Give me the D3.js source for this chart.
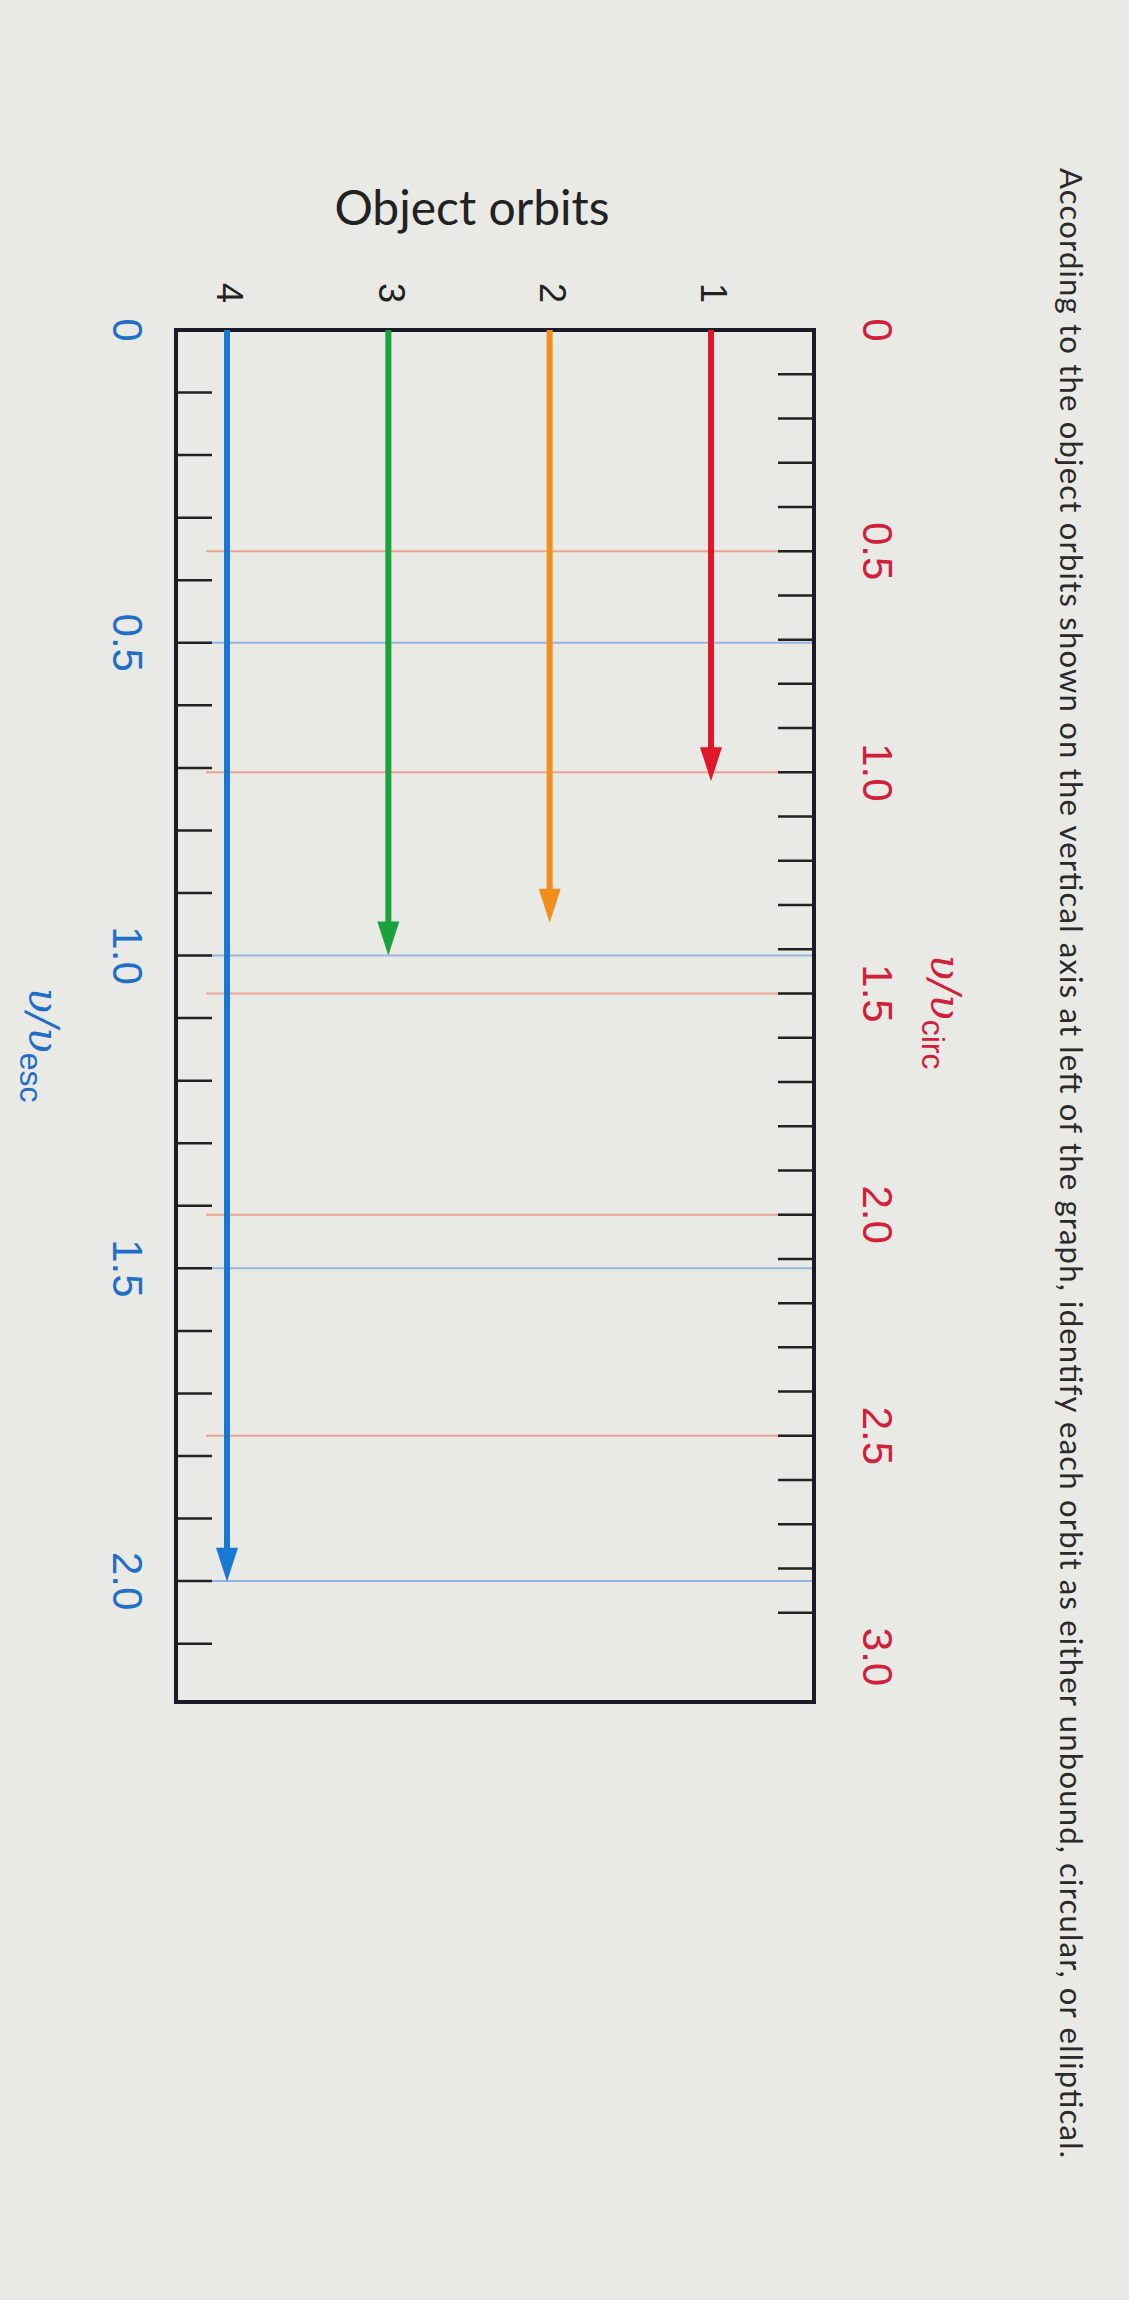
<!DOCTYPE html>
<html><head><meta charset="utf-8">
<script src="https://cdn.jsdelivr.net/npm/d3@7"></script>
<style>body{margin:0;background:#e9e9e6;}svg{display:block}</style>
</head><body>
<script>
const circTicks = [0, 0.5, 1.0, 1.5, 2.0, 2.5, 3.0];
const circTickLabels = ["0", "0.5", "1.0", "1.5", "2.0", "2.5", "3.0"];
const escTicks = [0, 0.5, 1.0, 1.5, 2.0];
const escTickLabels = ["0", "0.5", "1.0", "1.5", "2.0"];
const redLines = [0.5, 1.0, 1.5, 2.0, 2.5];      // v/v_circ
const blueLines = [0.5, 1.0, 1.5, 2.0];          // v/v_esc
const orbits = ["1", "2", "3", "4"];
const orbitEnds = [1.02, 1.34, 1.414, 2.83];     // v/v_circ at arrow tip
const orbitColors = ["#e2162b", "#f28e1c", "#1ca03c", "#1878d2"];

const W = 1129, H = 2300;
const svg = d3.select("body").append("svg").attr("width", W).attr("height", H);
svg.append("rect").attr("width", W).attr("height", H).attr("fill", "#e9e9e6");

const xL = 176, xR = 814, yT = 330, yB = 1702;
const y = d3.scaleLinear().domain([0, 3]).range([yT, 1657]);
const yE = v => y(v * Math.SQRT2);
const xOrb = d3.scalePoint().domain(orbits).range([711, 227]);
const font = "Lato, 'Open Sans', sans-serif";
const font2 = "'Liberation Sans', Arial, sans-serif";

function rtext(x, yy, txt, size, color, anchor, ff) {
  return svg.append("text").attr("transform", `translate(${x},${yy}) rotate(90)`)
    .attr("text-anchor", anchor || "middle").attr("dominant-baseline", "middle")
    .attr("font-family", ff || font2).attr("font-size", size).attr("fill", color).text(txt);
}

// title
rtext(1068, 168, "According to the object orbits shown on the vertical axis at left of the graph, identify each orbit as either unbound, circular, or elliptical.",
  31, "#2a2a2a", "start", font).attr("textLength", 1990).attr("lengthAdjust", "spacing");

// reference lines
svg.selectAll(".rl").data(redLines).join("line").attr("x1", xL + 30).attr("x2", xR)
  .attr("y1", d => y(d)).attr("y2", d => y(d)).attr("stroke", "#eba493").attr("stroke-width", 2);
svg.selectAll(".bl").data(blueLines).join("line").attr("x1", xL + 30).attr("x2", xR)
  .attr("y1", d => yE(d)).attr("y2", d => yE(d)).attr("stroke", "#97b6dc").attr("stroke-width", 2);

// minor ticks
const cMinor = d3.range(1, 30).map(i => i / 10);
svg.selectAll(".ct").data(cMinor).join("line").attr("x1", xR).attr("x2", xR - 36)
  .attr("y1", d => y(d)).attr("y2", d => y(d)).attr("stroke", "#222").attr("stroke-width", 2.5);
const eMinor = d3.range(1, 22).map(i => i / 10).filter(v => yE(v) < yB - 10);
svg.selectAll(".et").data(eMinor).join("line").attr("x1", xL).attr("x2", xL + 36)
  .attr("y1", d => yE(d)).attr("y2", d => yE(d)).attr("stroke", "#222").attr("stroke-width", 2.5);

// frame
svg.append("rect").attr("x", xL).attr("y", yT).attr("width", xR - xL).attr("height", yB - yT)
  .attr("fill", "none").attr("stroke", "#1a1a2a").attr("stroke-width", 4);

// tick labels
circTicks.forEach((v, i) => rtext(874, y(v), circTickLabels[i], 42, "#d0203a"));
escTicks.forEach((v, i) => rtext(124, yE(v), escTickLabels[i], 42, "#1f6fc8"));

// axis titles
const ct = rtext(942, 1012, "", 42, "#d0203a");
ct.append("tspan").attr("font-style", "italic").attr("font-family", "'DejaVu Serif', serif").text("υ/υ");
ct.append("tspan").attr("font-size", 32).attr("dy", 12).text("circ");
const et = rtext(40, 1045, "", 42, "#1f6fc8");
et.append("tspan").attr("font-style", "italic").attr("font-family", "'DejaVu Serif', serif").text("υ/υ");
et.append("tspan").attr("font-size", 32).attr("dy", 12).text("esc");

svg.append("text").attr("x", 472).attr("y", 225).attr("text-anchor", "middle")
  .attr("font-family", font).attr("font-size", 48).attr("fill", "#222").text("Object orbits");
orbits.forEach(o => rtext(xOrb(o), 293, o, 36, "#222"));

// arrows
orbits.forEach((o, i) => {
  const x = xOrb(o), yEnd = y(orbitEnds[i]), c = orbitColors[i];
  svg.append("line").attr("x1", x).attr("x2", x).attr("y1", yT).attr("y2", yEnd - 30)
    .attr("stroke", c).attr("stroke-width", 6);
  svg.append("path").attr("d", `M${x - 11},${yEnd - 34} L${x + 11},${yEnd - 34} L${x},${yEnd} Z`).attr("fill", c);
});
</script>
</body></html>
